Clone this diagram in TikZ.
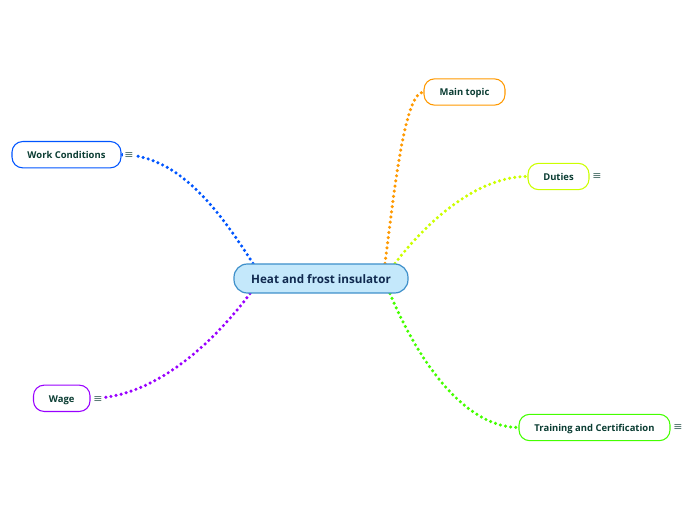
\documentclass[tikz,border=0pt]{standalone}
\usepackage{fontspec}
\setmainfont{Open Sans}
\newfontfamily\iconfont{DejaVu Sans}
\usetikzlibrary{backgrounds}
\definecolor{inktopic}{HTML}{0B3D33}
\definecolor{inkroot}{HTML}{10294F}
\definecolor{rootfill}{HTML}{C4E8FB}
\definecolor{rootline}{HTML}{3D8FCA}
\definecolor{wcblue}{HTML}{0055FF}
\definecolor{mainorange}{HTML}{FF9900}
\definecolor{dutylime}{HTML}{CCFF00}
\definecolor{traingreen}{HTML}{44FF00}
\definecolor{wagepurple}{HTML}{9900FF}
\begin{document}
\begin{tikzpicture}[x=0.75pt,y=-0.75pt,
    root/.style ={draw=rootline, fill=rootfill, line width=0.9pt, rounded corners=10pt, inner sep=0pt,
      text height=7.5pt, text depth=0.5pt,
      minimum width=130.5pt, minimum height=21.75pt, text=inkroot, font=\fontsize{8.75}{11}\selectfont\bfseries},
    topic/.style ={draw, fill=white, line width=0.8pt, rounded corners=8pt, inner sep=0pt,
      text height=6.5pt, text depth=0.5pt,
      minimum height=19.75pt, text=inktopic, font=\fontsize{7.08}{9}\selectfont\bfseries},
    link/.style ={line width=2.6pt, line cap=round, dash pattern=on 0pt off 3.9pt},
    notes/.style ={fill=white, inner sep=1pt, text=inktopic!75, font=\iconfont\fontsize{8.2}{9}\selectfont}]
   \useasboundingbox (0,0) rectangle (696,520);
   \node[root] (heat) at (321,278.5) {Heat and frost insulator};
   \node[topic, draw=wcblue, minimum width=81.75pt] (work) at (66.5,154.7) {Work Conditions};
   \node[topic, draw=mainorange, minimum width=60.75pt] (main) at (464.5,92) {Main topic};
   \node[topic, draw=dutylime, minimum width=45.75pt] (duties) at (558.5,176.5) {Duties};
   \node[topic, draw=traingreen, minimum width=113.25pt] (train) at (594.5,427.5) {Training and Certification};
   \node[topic, draw=wagepurple, minimum width=42.4pt] (wage) at (61.75,398.3) {Wage};
   % links go under the boxes
   \begin{scope}[on background layer]
   \draw[link, wcblue] ([xshift=-51pt]heat.north) .. controls +(-31,-48) and +(59,0) .. (work.east);
   \draw[link, mainorange] ([xshift=48pt]heat.north) .. controls +(9,-70) and +(-19,0) .. (main.west);
   \draw[link, dutylime] ([xshift=55.5pt]heat.north) .. controls +(33,-43) and +(-50,0) .. (duties.west);
   \draw[link, traingreen] ([xshift=51.75pt]heat.south) .. controls +(28,67) and +(-54,0) .. (train.west);
   \draw[link, wagepurple] ([xshift=-53.25pt]heat.south) .. controls +(-35,47) and +(65,0) .. (wage.east);
   \end{scope}
   % note marks
   \node[notes] (worknote) at (129,155.5) {≡};
   \node[notes] (wagenote) at (98,399.5) {≡};
   \node[notes] (dutynote) at (597,177) {≡};
   \node[notes] (trainnote) at (678,428) {≡};
 \end{tikzpicture}
\end{document}
